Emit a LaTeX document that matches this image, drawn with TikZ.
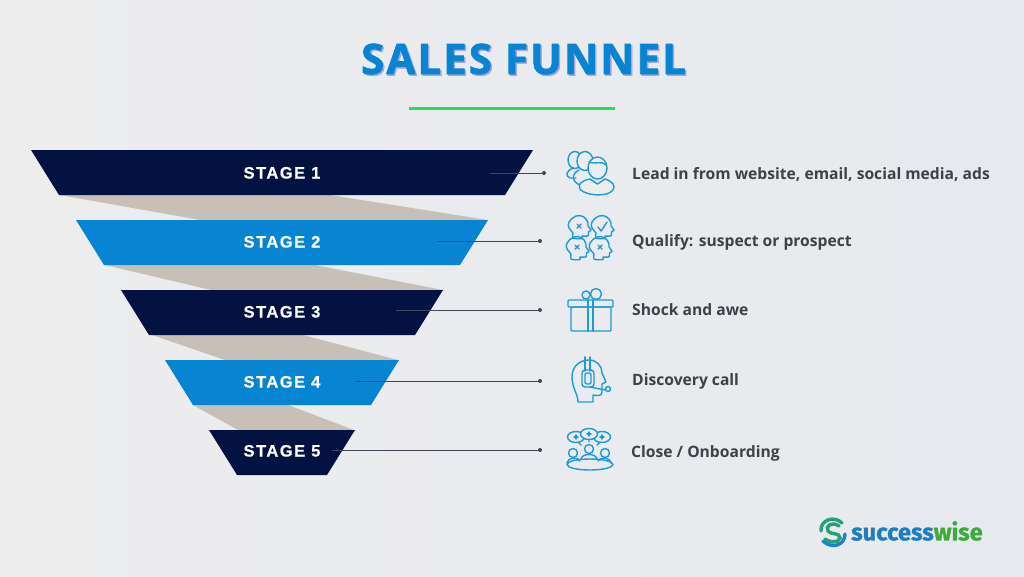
\documentclass[tikz,border=0pt]{standalone}
\usepackage{fontspec}
\setmainfont{Open Sans}
\newfontfamily\titlefont[LetterSpace=5,FakeBold=1.6]{Open Sans}
\newfontfamily\stagefont[LetterSpace=9,FakeBold=.6]{Liberation Sans}
\newfontfamily\logofont[FakeBold=1]{Fira Sans}
\usetikzlibrary{shapes.geometric}
\definecolor{navy}{HTML}{031241}
\definecolor{midblue}{HTML}{0784D2}
\definecolor{tanband}{HTML}{C8BFB7}
\definecolor{iconblue}{HTML}{1E9AD6}
\definecolor{leadgrey}{HTML}{3E4652}
\definecolor{labelgrey}{HTML}{404048}
\definecolor{paperl}{HTML}{EDEDEE}
\definecolor{paperr}{HTML}{E7E9EE}
\tikzset{
  stagebox/.style={trapezium,trapezium left angle=23.2,trapezium right angle=23.2,
    shape border rotate=180,trapezium stretches body=true,minimum height=45pt,
    text height=12pt,text depth=0pt,
    inner sep=0pt,outer sep=0pt,text=white,
    font=\stagefont\bfseries\fontsize{16.5}{18}\selectfont},
  band/.style={fill=tanband},
  leader/.style={draw=leadgrey,line width=.7pt},
  dotnode/.style={circle,fill=leadgrey,inner sep=0pt,minimum size=4pt},
  steptext/.style={anchor=base west,inner sep=0pt,text=labelgrey,
    font=\bfseries\fontsize{15.65}{18}\selectfont},
  icon/.style={draw=iconblue,line width=1.4pt,line join=round,line cap=round},
  pics/headicon/.style={code={
    \draw[icon] plot[smooth cycle,tension=.7] coordinates
      {(-6,11) (-6,6) (-10,1) (-10,-5) (-3,-11) (5,-10) (9,-4) (9,-1) (12,3) (9.5,5) (9,9) (3,9) (3,11.5)};
  }},
}
\begin{document}
\begin{tikzpicture}[x=1pt,y=-1pt]
\useasboundingbox (0,0) rectangle (1024,576);
\shade[left color=paperl,right color=paperr] (0,0) rectangle (1024,576);

% title
\node[font=\titlefont\bfseries\fontsize{42}{46}\selectfont,text=gray!60!blue!50,inner sep=0pt] (shadow) at (525,60.5) {SALES FUNNEL};
\node[font=\titlefont\bfseries\fontsize{42}{46}\selectfont,text=midblue,inner sep=0pt] (title) at (523.5,59) {SALES FUNNEL};
\draw[draw={rgb,255:red,37;green,220;blue,90},line width=3pt] (409,108) -- (615,108);

% bands go under the stages
\fill[band] (60,195) -- (330,195) -- (488,220) -- (200,220) -- cycle;
\fill[band] (105,265) -- (315,265) -- (443,290) -- (211,290) -- cycle;
\fill[band] (152,335) -- (303,335) -- (398,360) -- (225,360) -- cycle;
\fill[band] (193,405) -- (288,405) -- (354,430) -- (238,430) -- cycle;

% funnel
\node[stagebox,fill=navy,minimum width=502pt] (st1) at (282,172.5) {STAGE 1};
\node[stagebox,fill=midblue,minimum width=412pt] (st2) at (282,242.5) {\raisebox{1pt}{STAGE 2}};
\node[stagebox,fill=navy,minimum width=322pt] (st3) at (282,312.5) {\raisebox{1pt}{STAGE 3}};
\node[stagebox,fill=midblue,minimum width=234pt] (st4) at (282,382.5) {\raisebox{1pt}{STAGE 4}};
\node[stagebox,fill=navy,minimum width=146pt] (st5) at (282,452.5) {\raisebox{2pt}{STAGE 5}};

% leaders
\foreach \n/\a/\b/\y in {1/490/544/173,2/438/540/241,3/396/540/310,4/356/540/381,5/332/540/450}{
  \coordinate (from\n) at (\a,\y);
  \node[dotnode] (dot\n) at (\b,\y) {};
  \draw[leader] (from\n) -- (dot\n);
}

% texts
\node[steptext] (txt1) at (632,179) {Lead in from website, email, social media, ads};
\node[steptext] (txt2) at (632,246) {Qualify: suspect or prospect};
\node[steptext] (txt3) at (632,315) {Shock and awe};
\node[steptext] (txt4) at (632,385) {Discovery call};
\node[steptext] (txt5) at (631,457) {Close / Onboarding};

% people
\begin{scope}[icon]
\draw (575,160) ellipse [x radius=7pt,y radius=8.5pt];
\draw (573,168) .. controls (566,171) and (565,176) .. (570,178) -- (576,178);
\draw[fill=paperl] (585,161) ellipse [x radius=8pt,y radius=9.5pt];
\draw (579,170) .. controls (571,174) and (571,182) .. (582,186);
\draw[fill=paperl] (597.5,168) ellipse [x radius=9.5pt,y radius=11pt];
\draw[fill=paperl] (590,179) .. controls (579,181) and (575,188) .. (584,192) .. controls (592,196) and (607,196) .. (612,191) .. controls (617,186) and (612,181) .. (605,179) -- (597.5,184) -- cycle;
\draw (589,162) .. controls (594,165) and (602,160) .. (606,165);
\end{scope}

% four heads
\pic at (579,227) {headicon};
\pic at (602,227) {headicon};
\pic at (577,248) {headicon};
\pic at (600,248) {headicon};
\begin{scope}[icon]
\draw (577,224) -- (581,228) (581,224) -- (577,228);
\draw (598,227) -- (601,231) -- (607,222);
\draw (575,245) -- (579,249) (579,245) -- (575,249);
\draw (598,245) -- (602,249) (602,245) -- (598,249);
\end{scope}

% gift
\begin{scope}[icon]
\draw[rounded corners=1pt] (568,300) rectangle (613,307);
\draw[rounded corners=1pt] (571,307) rectangle (611,331);
\draw (588,300) -- (588,331) (593,300) -- (593,331);
\draw (586,295) circle (4pt);
\draw (596,294) circle (5.5pt);
\end{scope}

% headset
\begin{scope}[icon]
\draw (578,402) .. controls (578,394) and (572,388) .. (572,377) .. controls (572,366) and (580,360) .. (589,360)
  .. controls (597,360) and (602,366) .. (602,373) -- (606,382) -- (602,384) -- (602,392) .. controls (602,396) and (598,396) .. (593,395) -- (593,402) -- cycle;
\draw (585,357) -- (585,371) (590,357) -- (590,371);
\draw[rounded corners=3pt] (582,370) rectangle (594,387);
\draw[rounded corners=2pt] (585,373) rectangle (591,384);
\draw (590,387) -- (605,390);
\draw (608,389) circle (2.5pt);
\end{scope}

% meeting
\begin{scope}[icon]
\draw (576,437) ellipse [x radius=8.5pt,y radius=5.5pt];
\draw (602,437) ellipse [x radius=8.5pt,y radius=5.5pt];
\draw[fill=paperl] (589,434) ellipse [x radius=8.5pt,y radius=5.5pt];
\draw (578,442) -- (581,445) (600,442) -- (597,445) (589,439.5) -- (589,442);
\draw (576,435) -- (576,439) (574,437) -- (578,437);
\draw (589,432) -- (589,436) (587,434) -- (591,434);
\draw (602,435) -- (602,439) (600,437) -- (604,437);
\draw (573,453) circle (4.5pt);
\draw (589,449) circle (4.5pt);
\draw (605,453) circle (4.5pt);
\draw (567,463) .. controls (567,457) and (579,457) .. (580,461);
\draw (581,459) .. controls (582,453) and (596,453) .. (597,459);
\draw (598,461) .. controls (600,457) and (611,457) .. (611,463);
\draw (590,464.5) ellipse [x radius=23pt,y radius=5.5pt];
\end{scope}

% logo
\begin{scope}[line cap=round,line width=3.4pt]
\draw[draw={rgb,255:red,38;green,160;blue,120}] (842,523) .. controls (834,515) and (820,520) .. (821,531);
\draw[draw={rgb,255:red,38;green,160;blue,120}] (839,526) .. controls (832,521) and (825,526) .. (828,531) .. controls (830,535) and (840,532) .. (840,538) .. controls (838,544) and (829,542) .. (825,539);
\draw[draw={rgb,255:red,30;green,130;blue,195}] (845,534) .. controls (845,546) and (831,549) .. (823,541);
\end{scope}
\node[anchor=west,inner sep=0pt,font=\logofont\bfseries\fontsize{23.7}{28}\selectfont] (logo) at (851,531)
  {\textcolor[HTML]{1C7CC4}{success}\textcolor[HTML]{3CAB3C}{wise}};
\end{tikzpicture}
\end{document}
